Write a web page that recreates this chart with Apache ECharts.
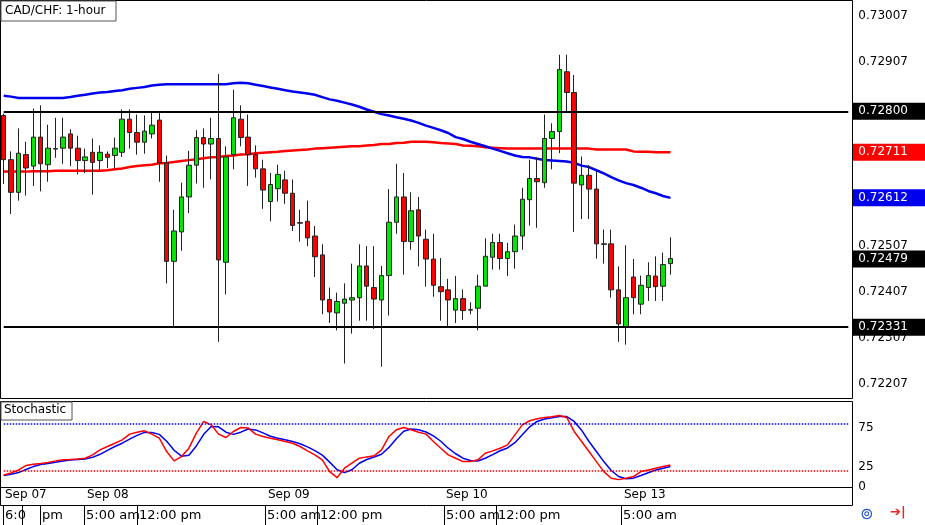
<!DOCTYPE html>
<html>
<head>
<meta charset="utf-8">
<script src="https://cdn.jsdelivr.net/npm/echarts@6/dist/echarts.min.js"></script>
<style>html,body{margin:0;padding:0;background:#fff}#main{width:925px;height:525px}</style>
</head>
<body>
<div id="main"></div>
<script>
// CAD/CHF 1-hour candles: [open, close, low, high]
var candles = [
[0.72791,0.72695,0.72642,0.72795],[0.72695,0.72624,0.72577,0.72713],[0.72624,0.72709,0.72606,0.72763],[0.72706,0.72677,0.72617,0.72734],
[0.72681,0.72744,0.72638,0.72806],[0.72744,0.72686,0.72626,0.72813],[0.72684,0.72720,0.72647,0.72771],[0.72719,0.72718,0.72699,0.72786],
[0.72720,0.72744,0.72686,0.72786],[0.72751,0.72720,0.72681,0.72761],[0.72720,0.72693,0.72663,0.72747],[0.72693,0.72701,0.72666,0.72719],
[0.72711,0.72689,0.72619,0.72741],[0.72693,0.72711,0.72668,0.72726],[0.72707,0.72700,0.72677,0.72713],[0.72704,0.72720,0.72677,0.72743],
[0.72711,0.72783,0.72701,0.72804],[0.72783,0.72754,0.72719,0.72804],[0.72754,0.72733,0.72706,0.72793],[0.72733,0.72757,0.72708,0.72791],
[0.72751,0.72770,0.72741,0.72799],[0.72781,0.72688,0.72647,0.72799],[0.72688,0.72474,0.72426,0.72704],[0.72474,0.72540,0.72333,0.72586],
[0.72538,0.72614,0.72497,0.72645],[0.72614,0.72683,0.72579,0.72714],[0.72683,0.72743,0.72643,0.72759],[0.72743,0.72729,0.72634,0.72763],
[0.72729,0.72741,0.72652,0.72786],[0.72741,0.72477,0.72299,0.72881],[0.72472,0.72701,0.72402,0.72724],[0.72706,0.72786,0.72674,0.72847],
[0.72783,0.72743,0.72724,0.72813],[0.72744,0.72706,0.72638,0.72793],[0.72706,0.72675,0.72656,0.72726],[0.72675,0.72629,0.72588,0.72695],
[0.72604,0.72641,0.72561,0.72666],[0.72632,0.72663,0.72604,0.72684],[0.72651,0.72622,0.72599,0.72671],[0.72622,0.72552,0.72540,0.72652],
[0.72558,0.72557,0.72517,0.72586],[0.72561,0.72525,0.72507,0.72606],[0.72529,0.72484,0.72440,0.72551],[0.72488,0.72390,0.72359,0.72511],
[0.72391,0.72364,0.72340,0.72417],[0.72362,0.72387,0.72324,0.72406],[0.72383,0.72392,0.72252,0.72426],[0.72390,0.72395,0.72317,0.72469],
[0.72395,0.72464,0.72345,0.72511],[0.72464,0.72420,0.72345,0.72507],[0.72417,0.72392,0.72327,0.72507],[0.72390,0.72443,0.72245,0.72464],
[0.72443,0.72559,0.72356,0.72631],[0.72559,0.72614,0.72534,0.72686],[0.72614,0.72517,0.72445,0.72666],[0.72517,0.72584,0.72499,0.72624],
[0.72586,0.72529,0.72463,0.72614],[0.72522,0.72479,0.72419,0.72543],[0.72479,0.72422,0.72397,0.72534],[0.72419,0.72408,0.72345,0.72481],
[0.72412,0.72390,0.72333,0.72436],[0.72368,0.72393,0.72340,0.72442],[0.72393,0.72367,0.72347,0.72413],[0.72369,0.72368,0.72359,0.72385],
[0.72372,0.72420,0.72324,0.72445],[0.72420,0.72485,0.72420,0.72524],[0.72483,0.72515,0.72456,0.72534],[0.72515,0.72480,0.72456,0.72534],
[0.72480,0.72495,0.72442,0.72514],[0.72495,0.72529,0.72458,0.72554],[0.72529,0.72609,0.72499,0.72634],[0.72608,0.72654,0.72552,0.72695],
[0.72654,0.72647,0.72547,0.72700],[0.72645,0.72741,0.72634,0.72793],[0.72741,0.72756,0.72674,0.72774],[0.72756,0.72891,0.72709,0.72923],
[0.72886,0.72841,0.72797,0.72923],[0.72841,0.72644,0.72538,0.72879],[0.72640,0.72661,0.72566,0.72702],[0.72661,0.72631,0.72566,0.72683],
[0.72631,0.72512,0.72480,0.72670],[0.72512,0.72511,0.72469,0.72543],[0.72512,0.72412,0.72395,0.72543],[0.72412,0.72338,0.72299,0.72463],
[0.72331,0.72395,0.72293,0.72509],[0.72440,0.72395,0.72359,0.72479],[0.72381,0.72422,0.72359,0.72443],[0.72417,0.72443,0.72388,0.72472],
[0.72442,0.72419,0.72388,0.72485],[0.72420,0.72467,0.72388,0.72493],[0.72469,0.72480,0.72445,0.72526]
];
var maBlue = [0.72834,0.72832,0.72829,0.72829,0.72829,0.72829,0.72829,0.72829,0.72829,0.72831,0.72834,0.72836,0.72839,0.72841,0.72842,0.72844,
0.72846,0.72849,0.72851,0.72853,0.72856,0.72858,0.72859,0.72859,0.72859,0.72859,0.72859,0.72859,0.72859,0.72859,0.72859,0.72861,0.72862,
0.72861,0.72858,0.72855,0.72852,0.72849,0.72846,0.72843,0.72841,0.72839,0.72836,0.72831,0.72826,0.72823,0.72819,0.72815,0.72810,0.72804,
0.72799,0.72794,0.72791,0.72787,0.72784,0.72780,0.72775,0.72769,0.72764,0.72759,0.72753,0.72744,0.72740,0.72734,0.72729,0.72724,0.72719,
0.72714,0.72709,0.72704,0.72701,0.72700,0.72697,0.72694,0.72693,0.72692,0.72691,0.72688,0.72682,0.72679,0.72672,0.72665,0.72657,0.72650,
0.72644,0.72640,0.72634,0.72627,0.72622,0.72616,0.72612];
var maRed = [0.72669,0.72669,0.72669,0.72669,0.72670,0.72670,0.72670,0.72671,0.72671,0.72671,0.72671,0.72671,0.72671,0.72671,0.72672,0.72674,
0.72676,0.72679,0.72681,0.72683,0.72684,0.72687,0.72688,0.72690,0.72692,0.72694,0.72696,0.72698,0.72700,0.72701,0.72703,0.72704,0.72706,
0.72707,0.72709,0.72710,0.72711,0.72712,0.72714,0.72715,0.72716,0.72717,0.72719,0.72720,0.72721,0.72722,0.72723,0.72724,0.72724,0.72726,
0.72727,0.72729,0.72729,0.72731,0.72732,0.72734,0.72734,0.72734,0.72733,0.72731,0.72730,0.72729,0.72726,0.72725,0.72724,0.72722,0.72721,
0.72720,0.72719,0.72719,0.72719,0.72719,0.72719,0.72719,0.72719,0.72719,0.72719,0.72719,0.72719,0.72719,0.72717,0.72717,0.72717,0.72717,
0.72717,0.72713,0.72712,0.72712,0.72711,0.72711,0.72711];
var stochK = [14.7,17.3,21.1,26.7,28.4,29.3,30.5,32.7,34.0,34.4,35.2,36.1,40.4,46.8,51.1,55.3,59.6,66.9,69.4,71.1,66.9,61.7,44.6,32.7,38.2,
48.9,68.2,83.1,78.8,66.9,62.6,70.3,75.4,74.6,66.9,63.9,61.7,59.6,57.5,55.3,51.1,45.5,40.4,34.0,19.0,11.3,23.3,29.7,36.1,37.8,39.1,46.8,
63.9,72.4,75.4,72.4,69.4,66.9,57.5,48.9,40.4,36.1,31.8,31.8,34.0,42.5,45.5,48.9,53.2,66.0,78.8,84.0,86.5,88.2,89.1,90.8,88.2,70.3,57.5,
44.6,31.8,19.0,10.4,8.7,10.4,12.6,19.0,21.1,23.3,25.4,27.5];
var stochD = [14.0,15.5,17.7,21.7,25.4,28.1,29.4,30.8,32.4,33.7,34.5,35.2,37.2,41.1,46.1,51.1,55.3,60.6,65.3,69.1,69.1,66.6,57.7,46.3,38.7,
40.0,51.8,66.7,76.7,76.3,69.4,66.6,69.4,73.4,72.3,68.5,64.2,61.7,59.6,57.5,54.6,50.6,45.7,40.0,31.1,21.4,17.9,21.4,29.7,34.5,37.7,41.2,
49.9,61.0,70.6,73.4,72.4,69.6,64.6,57.8,48.9,41.8,36.1,33.2,32.5,36.1,40.7,45.6,49.2,56.0,66.0,76.3,83.1,86.2,87.9,89.4,89.4,83.1,72.0,
57.5,44.6,31.8,20.4,12.7,9.8,10.6,14.0,17.6,21.1,23.3,25.4];
var priceTicks = [0.72207,0.72307,0.72407,0.72507,0.72907,0.73007];
var stochTicks = [0, 25, 75];
var supportRes = [0.72800, 0.72331];
var lastPrice = 0.72479, lastBlue = 0.72612, lastRed = 0.72711;
var dayLabels = [['Sep 07',5],['Sep 08',87],['Sep 09',268],['Sep 10',446],['Sep 13',624]];
var timeLabels = [['6:0',5],['pm',42],['5:00 am',86],['12:00 pm',139],['5:00 am',267],['12:00 pm',320],['5:00 am',446],['12:00 pm',498],['5:00 am',623]];
var timeSeps = [3,22,40,84,137,265,317,444,496,621];

var FONT = 'DejaVu Sans';
var NCAT = 115;
var cats = [];
for (var i = 0; i < NCAT; i++) cats.push(i);
var CLEAR = 'rgba(0,0,0,0)';

function hLine(v, lineStyle, label) {
  return [
    {coord: [0, v], lineStyle: lineStyle, label: label},
    {coord: [NCAT - 1, v], lineStyle: lineStyle, label: label}
  ];
}
function tickLine(v, txt) {
  return hLine(v, {color: CLEAR, width: 0},
    {show: true, position: 'end', distance: 10, formatter: txt, color: '#000', fontFamily: FONT, fontSize: 12});
}
function flag(v, txt, bg, showLine) {
  return hLine(v, {color: showLine ? '#000' : CLEAR, width: 2, type: 'solid'},
    {show: true, position: 'end', distance: 4, formatter: txt, color: '#fff', backgroundColor: bg,
      padding: [3, 20, 2, 6], fontFamily: FONT, fontSize: 12});
}

var priceMarks = priceTicks.map(function (v) { return tickLine(v, v.toFixed(5)); });
priceMarks.push(flag(supportRes[0], supportRes[0].toFixed(5), '#000', true));
priceMarks.push(flag(supportRes[1], supportRes[1].toFixed(5), '#000', true));
priceMarks.push(flag(lastRed, lastRed.toFixed(5), '#ff0000', false));
priceMarks.push(flag(lastBlue, lastBlue.toFixed(5), '#0000ee', false));
priceMarks.push(flag(lastPrice, lastPrice.toFixed(5), '#000', false));

var stochMarks = stochTicks.map(function (v) { return tickLine(v, String(v)); });
stochMarks.push(hLine(80, {color: '#0000ee', type: 'dotted', width: 1.5}, {show: false}));
stochMarks.push(hLine(20, {color: '#ee0000', type: 'dotted', width: 1.5}, {show: false}));

var graphics = [
  {type: 'rect', shape: {x: 0.5, y: 0.5, width: 852, height: 398}, style: {fill: 'none', stroke: '#000', lineWidth: 1}, z: 10},
  {type: 'rect', shape: {x: 0.5, y: 401.5, width: 852, height: 86}, style: {fill: 'none', stroke: '#000', lineWidth: 1}, z: 10},
  {type: 'rect', shape: {x: 0.5, y: 487.5, width: 852, height: 18}, style: {fill: 'none', stroke: '#000', lineWidth: 1}, z: 10},
  {type: 'rect', shape: {x: 1, y: 1, width: 115, height: 20}, style: {fill: '#fff', stroke: '#555', lineWidth: 1}, z: 11},
  {type: 'text', left: 5, top: 5, style: {text: 'CAD/CHF: 1-hour', font: '12px "' + FONT + '"', fill: '#000'}, z: 12},
  {type: 'rect', shape: {x: 1, y: 402, width: 71, height: 18}, style: {fill: '#fff', stroke: '#555', lineWidth: 1}, z: 11},
  {type: 'text', left: 4, top: 404, style: {text: 'Stochastic', font: '12px "' + FONT + '"', fill: '#000'}, z: 12},
  {type: 'text', left: 860, top: 507, style: {text: '⊚', font: '16px "' + FONT + '"', fill: '#2255cc'}, z: 12},
  {type: 'text', left: 890, top: 506, style: {text: '➔|', font: 'bold 13px "' + FONT + '"', fill: '#ee2222'}, z: 12}
];
dayLabels.forEach(function (d) {
  graphics.push({type: 'text', left: d[1], top: 489, style: {text: d[0], font: '12px "' + FONT + '"', fill: '#000'}, z: 12});
});
timeLabels.forEach(function (d) {
  graphics.push({type: 'text', left: d[1], top: 509, style: {text: d[0], font: '13px "' + FONT + '"', fill: '#000'}, z: 12});
});
timeSeps.forEach(function (x) {
  graphics.push({type: 'line', shape: {x1: x + 0.5, y1: 506, x2: x + 0.5, y2: 525}, style: {stroke: '#000', lineWidth: 1}, z: 12});
});

var chart = echarts.init(document.getElementById('main'));
chart.setOption({
  animation: false,
  backgroundColor: '#fff',
  grid: [
    {left: -3, width: 855, top: 0, height: 398},
    {left: -3, width: 855, top: 402, height: 86}
  ],
  xAxis: [
    {type: 'category', data: cats, gridIndex: 0, show: false},
    {type: 'category', data: cats, gridIndex: 1, show: false}
  ],
  yAxis: [
    {type: 'value', gridIndex: 0, min: 0.72177, max: 0.73042, show: false, splitLine: {show: false}},
    {type: 'value', gridIndex: 1, min: -2, max: 108, show: false, splitLine: {show: false}}
  ],
  series: [
    {type: 'line', data: maRed, xAxisIndex: 0, yAxisIndex: 0, symbol: 'none', lineStyle: {color: '#ff0000', width: 2.5}, z: 3,
      markLine: {silent: true, symbol: 'none', animation: false, precision: 5, data: priceMarks}},
    {type: 'line', data: maBlue, xAxisIndex: 0, yAxisIndex: 0, symbol: 'none', lineStyle: {color: '#0000ee', width: 2.5}, z: 3},
    {type: 'candlestick', data: candles, xAxisIndex: 0, yAxisIndex: 0, barWidth: 5, z: 4,
      itemStyle: {color: '#00e600', color0: '#ff0000', borderColor: '#222', borderColor0: '#222', borderWidth: 1}},
    {type: 'line', data: stochD, xAxisIndex: 1, yAxisIndex: 1, symbol: 'none', lineStyle: {color: '#0000ee', width: 1.5}, z: 3,
      markLine: {silent: true, symbol: 'none', animation: false, data: stochMarks}},
    {type: 'line', data: stochK, xAxisIndex: 1, yAxisIndex: 1, symbol: 'none', lineStyle: {color: '#ff0000', width: 1.5}, z: 4}
  ],
  graphic: graphics
});
</script>
</body>
</html>
